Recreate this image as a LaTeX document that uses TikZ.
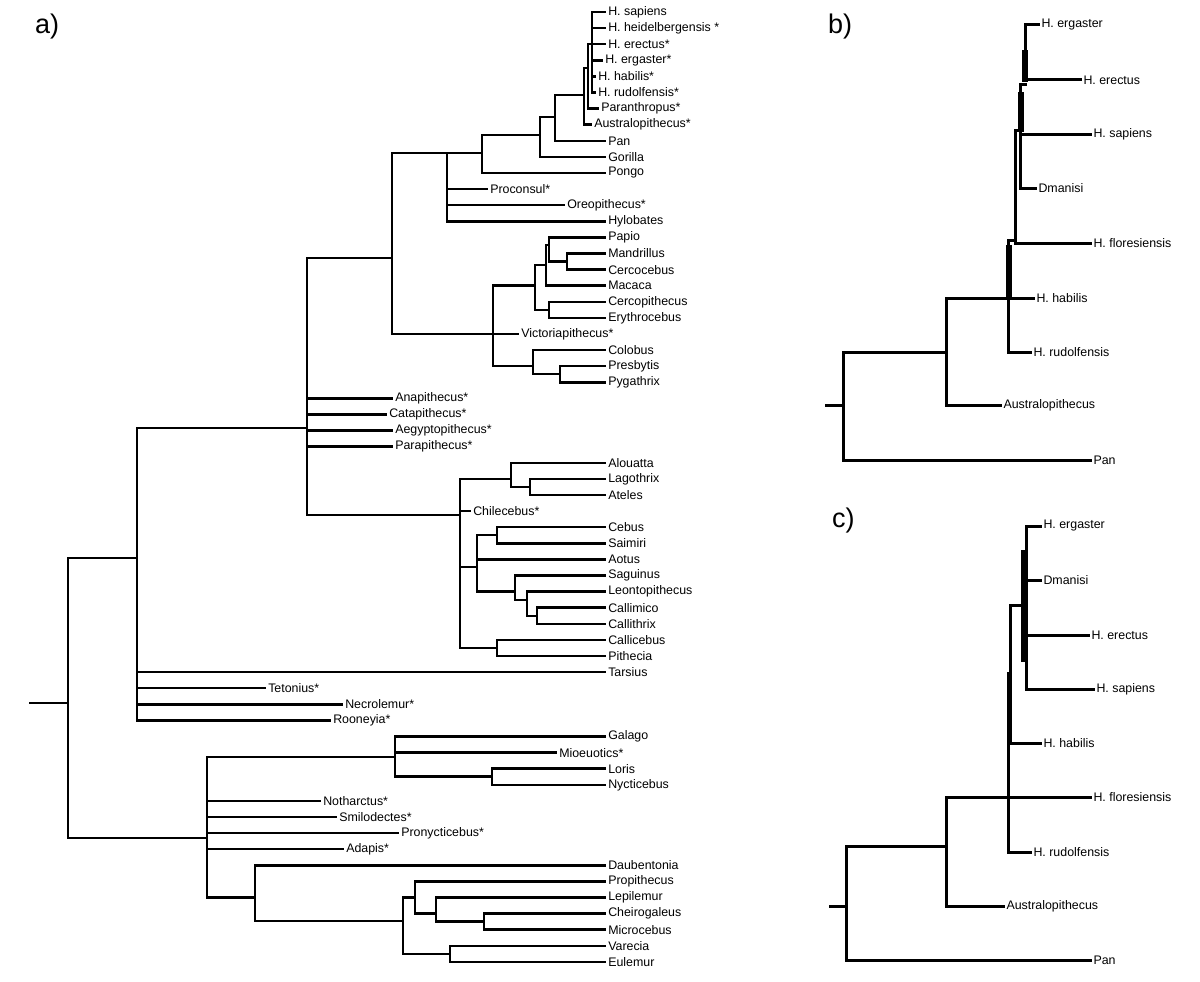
\documentclass[tikz,border=0pt]{standalone}
\usepackage{fontspec}
\setmainfont{Liberation Sans}
\newcommand\trV[3]{\draw[br] (#1,#2)--(#1,#3);}
\newcommand\trH[3]{\draw[br] (#1,#3)--(#2,#3);}
\newcommand\trL[4]{\draw[br] (#1,#3)--(#2,#3) node[lab](n#3){#4};}
\begin{document}
\begin{tikzpicture}[x=1pt,y=-1pt,line cap=rect,
 br/.style={line width=2.5pt},
 lab/.style={anchor=west,inner sep=2pt,font=\fontsize{12.4}{13}\selectfont},
 pl/.style={anchor=north west,inner sep=0pt,font=\fontsize{27}{30}\selectfont}]
\useasboundingbox (0,0) rectangle (1200,982);
\node[pl] (la) at (35,14) {a)};
\node[pl] (lb) at (828,14) {b)};
\node[pl] (lc) at (832,508) {c)};
% root
\trH{30}{68}{703}\trV{68}{558}{838}\trH{68}{137}{558}\trH{68}{207}{838}
\trV{137}{428}{720.4}\trH{137}{307}{428}
\trL{137}{605}{672.1}{Tarsius}\trL{137}{265}{688.2}{Tetonius*}
\trL{137}{342}{704.3}{Necrolemur*}\trL{137}{330}{720.4}{Rooneyia*}
\trV{307}{258}{515}\trH{307}{392}{258}
\trL{307}{392}{398.4}{Anapithecus*}\trL{307}{386}{414.5}{Catapithecus*}
\trL{307}{392}{430.6}{Aegyptopithecus*}\trL{307}{392}{446.7}{Parapithecus*}
\trH{307}{460}{515}
\trV{392}{153}{334}\trH{392}{447}{153}
\trV{447}{153}{221.3}\trH{447}{482}{153}
\trL{447}{487}{189.1}{Proconsul*}\trL{447}{564}{205.2}{Oreopithecus*}\trL{447}{605}{221.3}{Hylobates}
\trV{482}{135}{173}\trH{482}{540}{135}\trL{482}{605}{173}{Pongo}
\trV{540}{117}{156.9}\trH{540}{555}{117}\trL{540}{605}{156.9}{Gorilla}
\trV{555}{95}{140.8}\trH{555}{584}{95}\trL{555}{605}{140.8}{Pan}
\trV{584}{68}{124.7}\trH{584}{588}{68}\trL{584}{591}{124.7}{Australopithecus*}
\trV{588}{44}{108.6}\trH{588}{592}{44}\trL{588}{598}{108.6}{Paranthropus*}
\trV{592}{12}{92.5}
\trL{592}{605}{12}{H. sapiens}\trL{592}{605}{28.1}{H. heidelbergensis *}
\trL{592}{605}{44.2}{H. erectus*}\trL{592}{602}{60.3}{H. ergaster*}
\trL{592}{595}{76.4}{H. habilis*}\trL{592}{595}{92.5}{H. rudolfensis*}
% cercopithecoids
\trV{493}{285.7}{366.2}\trL{392}{518}{334}{Victoriapithecus*}
\trH{493}{535}{285.7}\trV{535}{265}{309.8}
\trH{535}{546}{265}\trV{546}{245}{285.7}\trL{546}{605}{285.7}{Macaca}
\trH{546}{549}{245}\trV{549}{237.4}{261.5}\trL{549}{605}{237.4}{Papio}
\trH{549}{567}{261.5}\trV{567}{253.5}{269.6}\trL{567}{605}{253.5}{Mandrillus}\trL{567}{605}{269.6}{Cercocebus}
\trH{535}{549}{309.8}\trV{549}{301.8}{317.9}\trL{549}{605}{301.8}{Cercopithecus}\trL{549}{605}{317.9}{Erythrocebus}
\trH{493}{533}{366.2}\trV{533}{350.1}{374.2}\trL{533}{605}{350.1}{Colobus}
\trH{533}{560}{374.2}\trV{560}{366.2}{382.3}\trL{560}{605}{366.2}{Presbytis}\trL{560}{605}{382.3}{Pygathrix}
% platyrrhines
\trV{460}{479}{648}\trH{460}{511}{479}
\trV{511}{462.8}{487}\trL{511}{605}{462.8}{Alouatta}
\trH{511}{530}{487}\trV{530}{478.9}{495}\trL{530}{605}{478.9}{Lagothrix}\trL{530}{605}{495}{Ateles}
\trL{460}{470}{511.1}{Chilecebus*}
\trH{460}{477}{567}\trV{477}{535.2}{591.6}
\trH{477}{497}{535.2}\trV{497}{527.2}{543.3}\trL{497}{605}{527.2}{Cebus}\trL{497}{605}{543.3}{Saimiri}
\trL{477}{605}{559.4}{Aotus}
\trH{477}{515}{591.6}\trV{515}{575.5}{600}\trL{515}{605}{575.5}{Saguinus}
\trH{515}{527}{600}\trV{527}{591.6}{615.8}\trL{527}{605}{591.6}{Leontopithecus}
\trH{527}{537}{615.8}\trV{537}{607.7}{623.8}\trL{537}{605}{607.7}{Callimico}\trL{537}{605}{623.8}{Callithrix}
\trH{460}{497}{648}\trV{497}{639.9}{656}\trL{497}{605}{639.9}{Callicebus}\trL{497}{605}{656}{Pithecia}
% strepsirrhines
\trV{207}{757}{897.5}\trH{207}{395}{757}
\trV{395}{736.5}{776.7}\trL{395}{605}{736.5}{Galago}\trL{395}{556}{752.6}{Mioeuotics*}
\trH{395}{492}{776.7}\trV{492}{768.7}{784.8}\trL{492}{605}{768.7}{Loris}\trL{492}{605}{784.8}{Nycticebus}
\trL{207}{320}{800.9}{Notharctus*}\trL{207}{336}{817}{Smilodectes*}
\trL{207}{398}{833.1}{Pronycticebus*}\trL{207}{343}{849.2}{Adapis*}
\trH{207}{255}{897.5}\trV{255}{865.3}{921}\trL{255}{605}{865.3}{Daubentonia}
\trH{255}{403}{921}\trV{403}{897.5}{953.8}
\trH{403}{415}{897.5}\trV{415}{881.4}{913.6}\trL{415}{605}{881.4}{Propithecus}
\trH{415}{436}{913.6}\trV{436}{897.5}{921.6}\trL{436}{605}{897.5}{Lepilemur}
\trH{436}{484}{921.6}\trV{484}{913.6}{929.7}\trL{484}{605}{913.6}{Cheirogaleus}\trL{484}{605}{929.7}{Microcebus}
\trH{403}{450}{953.8}\trV{450}{945.8}{961.9}\trL{450}{605}{945.8}{Varecia}\trL{450}{605}{961.9}{Eulemur}
% panel b
\begin{scope}[br/.style={line width=3pt}]
\trH{826}{843}{405}\trV{843}{352}{460}\trH{843}{946}{352}\trL{843}{1090}{460}{Pan}
\trV{946}{298}{405}\trH{946}{1008}{298}\trL{946}{1000}{405}{Australopithecus}
\trV{1008}{240}{352}\trL{1008}{1033}{298}{H. habilis}\trL{1008}{1030}{352}{H. rudolfensis}
\trH{1008}{1015}{240}\trV{1015}{130}{243}\trL{1015}{1090}{243}{H. floresiensis}
\trH{1015}{1020}{130}\trV{1020}{85}{188}\trL{1020}{1035}{188}{Dmanisi}\trL{1020}{1090}{134}{H. sapiens}
\trH{1020}{1025}{85}\trV{1025}{25}{80}\trL{1025}{1038}{25}{H. ergaster}\trL{1025}{1080}{80}{H. erectus}
\fill (1022,50) rectangle (1028,82);
\fill (1018,92) rectangle (1024,132);
\fill (1006,245) rectangle (1012,300);
% panel c
\trH{830}{846}{906}\trV{846}{846}{960}\trH{846}{946}{846}\trL{846}{1090}{960}{Pan}
\trV{946}{797}{906}\trH{946}{1008}{797}\trL{946}{1003}{906}{Australopithecus}
\trV{1008}{735}{852}\trL{1008}{1090}{797}{H. floresiensis}\trL{1008}{1030}{852}{H. rudolfensis}
\trV{1010}{605}{743}\trL{1010}{1040}{743}{H. habilis}
\trH{1010}{1026}{605}\trV{1026}{526}{689}
\trL{1026}{1040}{526}{H. ergaster}\trL{1026}{1040}{580}{Dmanisi}
\trL{1026}{1088}{635}{H. erectus}\trL{1026}{1093}{689}{H. sapiens}
\fill (1021,550) rectangle (1027,662);
\fill (1007,672) rectangle (1012,745);
\end{scope}
\end{tikzpicture}
\end{document}
